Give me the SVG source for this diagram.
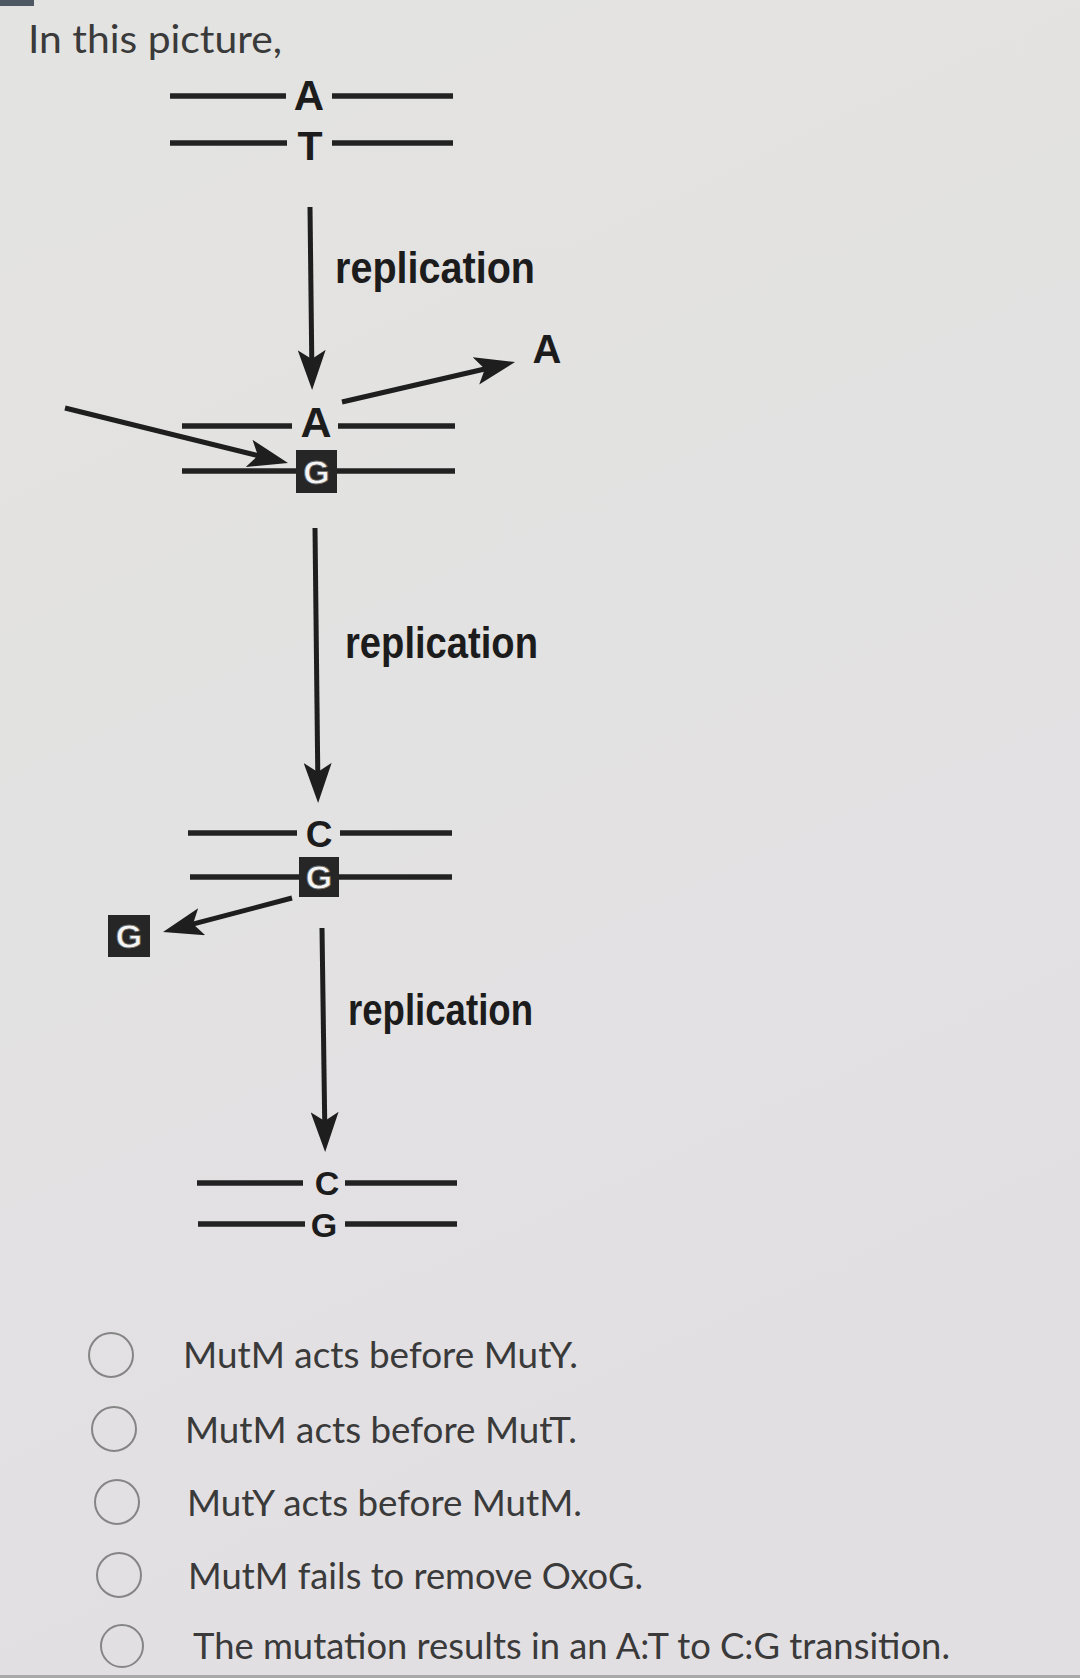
<svg xmlns="http://www.w3.org/2000/svg" width="1080" height="1678" viewBox="0 0 1080 1678">
<defs>
<linearGradient id="bg" x1="0" y1="0" x2="0.3" y2="1">
<stop offset="0" stop-color="#e3e3e1"/>
<stop offset="0.5" stop-color="#e3e2e2"/>
<stop offset="1" stop-color="#e2dfe3"/>
</linearGradient>
<marker id="ah" markerUnits="userSpaceOnUse" viewBox="0 0 40 28" markerWidth="40" markerHeight="28" refX="30" refY="14" orient="auto">
<path d="M0,0 L40,14 L0,28 L9,14 Z" fill="#1e1e1e"/>
</marker>
</defs>
<style>
.strand{stroke:#222;stroke-width:5.5;fill:none}
.conn{stroke:#1e1e1e;stroke-width:5;fill:none;marker-end:url(#ah)}
.base{font-family:"Liberation Sans",Arial,sans-serif;font-weight:bold;fill:#1c1c1c;text-anchor:middle}
.lbl{font-family:"Liberation Sans",Arial,sans-serif;font-weight:bold;fill:#1c1c1c;font-size:45px}
.box{fill:#262626}
.gw{font-family:"Liberation Sans",Arial,sans-serif;font-weight:bold;fill:#f4f4f4;font-size:34px;text-anchor:middle;stroke:#666;stroke-width:0.8}
.opt{font-family:Lato,"Open Sans",sans-serif;font-size:36px;fill:#3a3a3a}
.radio{fill:none;stroke:#858585;stroke-width:2}
</style>
<rect width="1080" height="1678" fill="url(#bg)"/>
<rect x="0" y="0" width="34" height="6" fill="#4d5863"/>
<rect x="0" y="1675" width="1080" height="3" fill="#a8a8a8"/>

<text x="28" y="53" font-family="Lato,'Open Sans',sans-serif" font-size="38" fill="#3a3a3a" textLength="254" lengthAdjust="spacingAndGlyphs">In this picture,</text>

<g id="pair-AT">
<line class="strand" x1="170" y1="96" x2="286" y2="96"/>
<line class="strand" x1="332" y1="96" x2="453" y2="96"/>
<line class="strand" x1="170" y1="143" x2="287" y2="143"/>
<line class="strand" x1="332" y1="143" x2="453" y2="143"/>
<text class="base" x="309" y="110" font-size="42">A</text>
<text class="base" x="310" y="160" font-size="41">T</text>
</g>

<g id="pair-AG">
<line class="strand" x1="182" y1="426" x2="292" y2="426"/>
<line class="strand" x1="338" y1="426" x2="455" y2="426"/>
<line class="strand" x1="182" y1="471" x2="297" y2="471"/>
<line class="strand" x1="336" y1="471" x2="455" y2="471"/>
<text class="base" x="316" y="437" font-size="43">A</text>
<rect class="box" x="296" y="450" width="41" height="43"/>
<text class="gw" x="316.5" y="484">G</text>
</g>

<g id="free-A">
<text class="base" x="547" y="363" font-size="40">A</text>
</g>

<g id="pair-CG">
<line class="strand" x1="188" y1="833" x2="297" y2="833"/>
<line class="strand" x1="340" y1="833" x2="452" y2="833"/>
<line class="strand" x1="190" y1="877" x2="300" y2="877"/>
<line class="strand" x1="338" y1="877" x2="452" y2="877"/>
<text class="base" x="319" y="847" font-size="37">C</text>
<rect class="box" x="299" y="857" width="40" height="40"/>
<text class="gw" x="319" y="889">G</text>
</g>

<g id="free-G">
<rect class="box" x="108" y="915" width="42" height="42"/>
<text class="gw" x="129" y="948">G</text>
</g>

<g id="pair-CG-final">
<line class="strand" x1="197" y1="1183" x2="303" y2="1183"/>
<line class="strand" x1="345" y1="1183" x2="457" y2="1183"/>
<line class="strand" x1="198" y1="1224" x2="305" y2="1224"/>
<line class="strand" x1="345" y1="1224" x2="457" y2="1224"/>
<text class="base" x="327" y="1195" font-size="34">C</text>
<text class="base" x="324" y="1237" font-size="34">G</text>
</g>

<g id="connectors">
<line class="conn" x1="310" y1="207" x2="312" y2="380"/>
<line class="conn" x1="315" y1="528" x2="318" y2="793"/>
<line class="conn" x1="322" y1="928" x2="325" y2="1142"/>
<line class="conn" x1="65" y1="408" x2="278.3" y2="460.6"/>
<line class="conn" x1="342" y1="402" x2="505.3" y2="364.2"/>
<line class="conn" x1="292" y1="898" x2="172.7" y2="929.4"/>
</g>

<g id="labels">
<text class="lbl" x="335" y="283" textLength="200" lengthAdjust="spacingAndGlyphs">replication</text>
<text class="lbl" x="345" y="658" textLength="193" lengthAdjust="spacingAndGlyphs">replication</text>
<text class="lbl" x="348" y="1025" textLength="185" lengthAdjust="spacingAndGlyphs">replication</text>
</g>

<g id="options">
<circle class="radio" cx="111" cy="1355" r="22"/>
<text class="opt" x="183" y="1368" textLength="395" lengthAdjust="spacingAndGlyphs">MutM acts before MutY.</text>
<circle class="radio" cx="114" cy="1429" r="22"/>
<text class="opt" x="185" y="1443" textLength="392" lengthAdjust="spacingAndGlyphs">MutM acts before MutT.</text>
<circle class="radio" cx="117" cy="1502" r="22"/>
<text class="opt" x="187" y="1516" textLength="395" lengthAdjust="spacingAndGlyphs">MutY acts before MutM.</text>
<circle class="radio" cx="119" cy="1575" r="22"/>
<text class="opt" x="188" y="1589" textLength="455" lengthAdjust="spacingAndGlyphs">MutM fails to remove OxoG.</text>
<circle class="radio" cx="122" cy="1646" r="21"/>
<text class="opt" x="193" y="1659" textLength="757" lengthAdjust="spacingAndGlyphs">The mutation results in an A:T to C:G transition.</text>
</g>
</svg>
